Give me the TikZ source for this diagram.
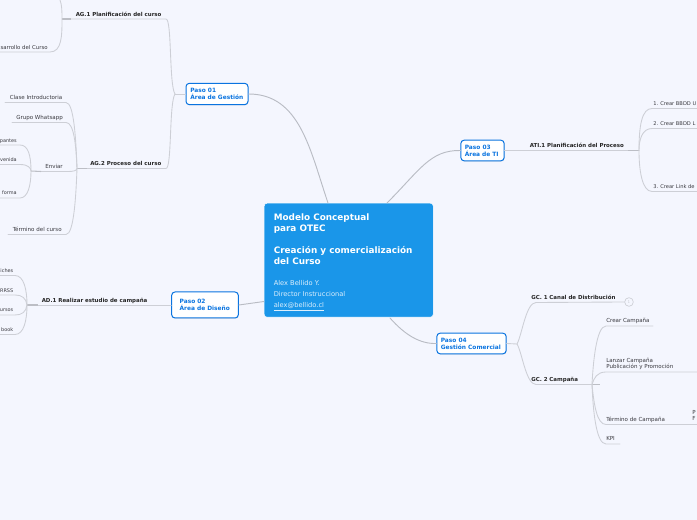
\documentclass[tikz,border=0pt]{standalone}
\usepackage{xcolor}
\usepackage{fontspec}
\setmainfont{DejaVu Sans}
\usetikzlibrary{calc,shadows}
\definecolor{pagebg}{HTML}{F4F6FE}
\definecolor{rootblue}{HTML}{1A96E9}
\definecolor{stepblue}{HTML}{0A74E0}
\definecolor{linegray}{HTML}{CDCFD6}
\definecolor{linkgray}{HTML}{B9BCC4}
\definecolor{stemgray}{HTML}{BCBEC5}
\definecolor{textgray}{HTML}{3A3A40}
\tikzset{
  rootbox/.style={anchor=north west,inner sep=0pt,minimum width=126.75pt,minimum height=85.5pt,fill=rootblue,draw=white,line width=0.3pt,rounded corners=2.2pt},
  stepbox/.style={draw=stepblue,fill=white,line width=0.75pt,rounded corners=2.5pt,inner sep=0pt,drop shadow={shadow xshift=0.3pt,shadow yshift=-0.6pt,opacity=0.18},text=stepblue,font=\bfseries\fontsize{4.4}{5.4}\selectfont,align=left},
  mainlabel/.style={anchor=base west,inner sep=0pt,font=\bfseries\fontsize{4.1}{4.8}\selectfont,text=black!85},
  leaflabel/.style={anchor=base west,inner sep=0pt,font=\fontsize{4.15}{4.6}\selectfont,text=textgray,align=left},
  leafedge/.style={anchor=base west,inner sep=0pt,font=\fontsize{3.85}{4.6}\selectfont,text=textgray},
  leafright/.style={anchor=base east,inner sep=0pt,font=\fontsize{3.7}{4.6}\selectfont,text=textgray},
  branch/.style={draw=linegray,line width=0.65pt,line cap=round},
  rootlink/.style={draw=linkgray,line width=0.7pt,line cap=round},
  stem/.style={draw=stemgray,line width=0.8pt},
}
\begin{document}
\begin{tikzpicture}[x=0.75pt,y=-0.75pt]
\fill[pagebg] (0,0) rectangle (697,520);
\clip (0,0) rectangle (697,520);
% hubs
\coordinate (hubag) at (175,94);
\coordinate (hubagone) at (62,19);
\coordinate (hubagtwo) at (77,168.5);
\coordinate (hubenviar) at (31,171);
\coordinate (hubad) at (27,305);
\coordinate (hubati) at (639,150.5);
\coordinate (hubgc) at (517,344);
\coordinate (hubcamp) at (592,384.5);
% main boxes
\node[rootbox] (root) at (264,203) {};
\node[stepbox,minimum width=46.5pt,minimum height=16pt] (paso01) at (217,94) {\hspace*{3pt}\parbox{43pt}{Paso 01\\Área de Gestión}};
\node[stepbox,minimum width=50pt,minimum height=19.5pt] (paso02) at (205,305) {\hspace*{6pt}\parbox{44pt}{Paso 02\\Área de Diseño}};
\node[stepbox,minimum width=32.5pt,minimum height=15.5pt] (paso03) at (482.5,150.5) {\hspace*{3pt}\parbox{29.5pt}{Paso 03\\Área de TI}};
\node[stepbox,minimum width=52pt,minimum height=15.5pt] (paso04) at (471.5,343.5) {\hspace*{3pt}\parbox{49pt}{Paso 04\\Gestión Comercial}};
% text of the root
\node[anchor=north west,inner sep=0pt,text=white,font=\bfseries\fontsize{6.65}{8.25}\selectfont,align=left] (roottitle) at (273.5,213) {Modelo Conceptual\\para OTEC\\[8.25pt]Creación y comercialización\\del Curso};
\node[anchor=north west,inner sep=0pt,text=white!85!rootblue,font=\fontsize{5}{8}\selectfont,align=left] (rootauthor) at (273.5,280.5) {Alex Bellido Y.\\Director Instruccional\\\underline{alex@bellido.cl}};
% step connectors
\draw[rootlink] (paso01.east) .. controls (300,94) and (310,150) .. (328,203);
\draw[rootlink] (paso03.west) .. controls (430,150) and (420,170) .. (387,203);
\draw[rootlink] (paso02.east) -- (264,301.5);
\draw[rootlink] (paso04.west) .. controls (420,344) and (405,335) .. (390,318);
% labels
\node[mainlabel] (agone) at (75.5,16.5) {AG.1 Planificación del curso};
\node[mainlabel] (agtwo) at (90,165.5) {AG.2 Proceso del curso};
\node[mainlabel] (adone) at (41.5,303) {AD.1 Realizar estudio de campaña};
\node[mainlabel] (atione) at (529.5,148) {ATI.1 Planificación del Proceso};
\node[mainlabel] (gcone) at (531,299.5) {GC. 1 Canal de Distribución};
\node[mainlabel] (gctwo) at (531,382) {GC. 2 Campaña};
\node[leafright,font=\fontsize{4.05}{4.6}\selectfont] (desarrollo) at (48,50) {sarrollo del Curso};
\node[leaflabel] (clase) at (9.5,100) {Clase Introductoria};
\node[leaflabel] (grupo) at (16,120) {Grupo Whatsapp};
\node[leaflabel] (enviar) at (45,169) {Enviar};
\node[leafright] (pantes) at (17,143) {pantes};
\node[leafright] (venida) at (17,162) {venida};
\node[leafright] (forma) at (17,195) {forma};
\node[leaflabel] (termino) at (12.5,232) {Término del curso};
\node[leafright] (iches) at (13.5,273) {iches};
\node[leafright] (rrss) at (13.5,293) {RRSS};
\node[leafright] (ursos) at (13.5,312) {ursos};
\node[leafright] (book) at (13.5,332) {book};
\node[leafedge] (bbddu) at (653,106) {1. Crear BBDD U};
\node[leafedge] (bbddl) at (653,126) {2. Crear BBDD L};
\node[leafedge] (crearlink) at (653,189) {3. Crear Link de};
\node[leaflabel] (crear) at (606,323) {Crear Campaña};
\node[leaflabel] (lanzar) at (606,369) {Lanzar Campaña\\Publicación y Promoción};
\node[leaflabel] (terminocamp) at (606,422) {Término de Campaña};
\node[leaflabel] (kpi) at (606,441) {KPI};
\node[leaflabel] (pfrag) at (692,421) {P\\F};
% circle of the folded branch
\node[circle,draw=linegray,fill=pagebg,line width=0.5pt,minimum size=6.5pt,inner sep=0pt,text=linegray,font=\fontsize{3}{3}\selectfont] (foldone) at (629,302) {1};
% underlines and curves
\draw[branch] (paso01.west) -- (hubag);
\draw[branch] (71,19) -- (166,19) .. controls (172,19) and (169,85) .. (hubag);
\draw[branch] (87,168.5) -- (166,168.5) .. controls (172,168.5) and (169,103) .. (hubag);
\draw[stem] (hubagone) -- (71,19);
\draw[stem] (hubagtwo) -- (87,168.5);
\draw[branch] (hubagone) .. controls (62,12) and (62,5) .. (60,0);
\draw[branch] (hubagone) .. controls (62,35) and (62,52) .. (50,52) -- (0,52);
\draw[branch] (5,102.5) -- (66,102.5) .. controls (74,102.5) and (76,140) .. (hubagtwo);
\draw[branch] (12,122.5) -- (66,122.5) .. controls (74,122.5) and (76,145) .. (hubagtwo);
\draw[branch] (41,171.5) -- (68,171.5) .. controls (72,171.5) and (77,171) .. (hubagtwo);
\draw[branch] (8,234.5) -- (66,234.5) .. controls (74,234.5) and (76,195) .. (hubagtwo);
\draw[stem] (hubenviar) -- (41,171.5);
\draw[branch] (0,145) -- (20,145) .. controls (28,145) and (31,155) .. (hubenviar);
\draw[branch] (0,164.5) -- (20,164.5) .. controls (28,164.5) and (31,168) .. (hubenviar);
\draw[branch] (0,198) -- (20,198) .. controls (28,198) and (31,185) .. (hubenviar);
% left side of step 02
\draw[branch] (hubad) -- (paso02.west);
\draw[stem] (hubad) -- (38,305);
\draw[branch] (0,275.5) -- (15,275.5) .. controls (24,275.5) and (27,290) .. (hubad);
\draw[branch] (0,295) -- (15,295) .. controls (22,295) and (26,298) .. (hubad);
\draw[branch] (0,315) -- (15,315) .. controls (22,315) and (26,312) .. (hubad);
\draw[branch] (0,334.5) -- (15,334.5) .. controls (24,334.5) and (27,320) .. (hubad);
% right side of step 03
\draw[branch] (paso03.east) -- (hubati);
\draw[stem] (628,150.5) -- (hubati);
\draw[branch] (697,108.5) -- (652,108.5) .. controls (642,108.5) and (639,125) .. (hubati);
\draw[branch] (697,128.5) -- (652,128.5) .. controls (642,128.5) and (639,140) .. (hubati);
\draw[branch] (697,191.5) -- (652,191.5) .. controls (642,191.5) and (639,170) .. (hubati);
% right side of step 04
\draw[branch] (paso04.east) -- (hubgc);
\draw[branch] (foldone.west) -- (536,302.5) .. controls (526,302.5) and (522,335) .. (hubgc);
\draw[branch] (hubcamp) -- (536,384.5) .. controls (526,384.5) and (522,352) .. (hubgc);
\draw[stem] (hubcamp) -- (600,384.5);
\draw[branch] (653,326) -- (606,326) .. controls (596,326) and (593,365) .. (hubcamp);
\draw[branch] (697,372) -- (606,372) .. controls (597,372) and (594,378) .. (hubcamp);
\draw[branch] (697,424.5) -- (606,424.5) .. controls (597,424.5) and (594,405) .. (hubcamp);
\draw[branch] (620,444) -- (606,444) .. controls (596,444) and (593,410) .. (hubcamp);
\end{tikzpicture}
\end{document}
